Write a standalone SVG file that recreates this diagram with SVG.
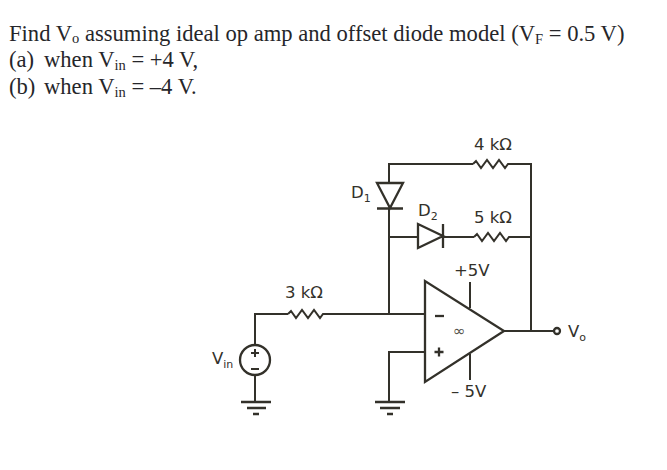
<svg xmlns="http://www.w3.org/2000/svg" width="667" height="470" viewBox="0 0 667 470">
<style>
.w{fill:none;stroke:#33312a;stroke-width:2}
.b{fill:none;stroke:#33312a;stroke-width:2.300}
.q{font-family:"Liberation Serif",serif;font-size:22.600px;fill:#26262a}
.l{font-family:"DejaVu Sans","Liberation Sans",sans-serif;font-size:16.500px;fill:#33312a}
.s{font-size:11px}
.qs{font-size:14.500px}
</style>
<rect width="667" height="470" fill="#fff"/>
<g id="question">
<text class="q" x="9" y="41">Find V<tspan class="qs" dy="2">o</tspan><tspan dy="-2"> assuming ideal op amp and offset diode model (V</tspan><tspan class="qs" dy="3">F</tspan><tspan dy="-3"> = 0.5 V)</tspan></text>
<text class="q" x="9" y="67">(a)<tspan x="44">when V</tspan><tspan class="qs" dy="3">in</tspan><tspan dy="-3"> = +4 V,</tspan></text>
<text class="q" x="9" y="94">(b)<tspan x="44">when V</tspan><tspan class="qs" dy="3">in</tspan><tspan dy="-3"> = –4 V.</tspan></text>
</g>
<g id="connectors">
<path class="w" d="M255 345V314H288M326 314H425M389 314V208M389 183V164H473M511 164H531V331M389 237H418M443 237H474M512 237H531M425 352H389V402M255 375V402M504 331H554M470 282V308M470 354V380"/>
</g>
<g id="r4k"><path class="w" d="M473 164l3-3 5 7 6-8 6 8 6-8 6 8 3-4h3"/><text class="l" x="474" y="150">4 kΩ</text></g>
<g id="r5k"><path class="w" d="M474 237l3-3 5 7 6-8 6 8 6-8 6 8 3-4h3"/><text class="l" x="474" y="223">5 kΩ</text></g>
<g id="r3k"><path class="w" d="M288 314l3-3 5 7 6-8 6 8 6-8 6 8 3-4h3"/><text class="l" x="285" y="298">3 kΩ</text></g>
<g id="d1"><path class="b" d="M377 183H403L390 208ZM377 208.500H403"/><text class="l" x="351" y="198">D<tspan class="s" dy="4">1</tspan></text></g>
<g id="d2"><path class="b" d="M418 224V248L443 236ZM443 224V248"/><text class="l" x="418" y="216">D<tspan class="s" dy="4">2</tspan></text></g>
<g id="opamp"><path class="b" d="M425 281V382L504 331Z"/>
<path class="b" d="M435 316H444"/><path class="b" d="M439 347.500V356.500M434.500 352H443.500"/>
<text x="453" y="336" font-family="DejaVu Sans,sans-serif" font-size="15" fill="#55534c">∞</text>
<text class="l" x="454" y="276">+5V</text><text class="l" x="451" y="397">– 5V</text></g>
<g id="vin"><circle class="b" cx="255" cy="360" r="15"/><path class="w" d="M251 353H259M255 349V357M251 369H259"/><text class="l" x="212" y="364">V<tspan class="s" dy="4">in</tspan></text></g>
<g id="gnd1"><path class="b" d="M241 402H271M247 408H266M253 414H259"/></g>
<g id="gnd2"><path class="b" d="M375 402H405M380 408H400M387 414H393"/></g>
<g id="vo"><circle class="b" cx="557" cy="331" r="3"/><text class="l" x="568" y="337">V<tspan class="s" dy="4">o</tspan></text></g>
</svg>
